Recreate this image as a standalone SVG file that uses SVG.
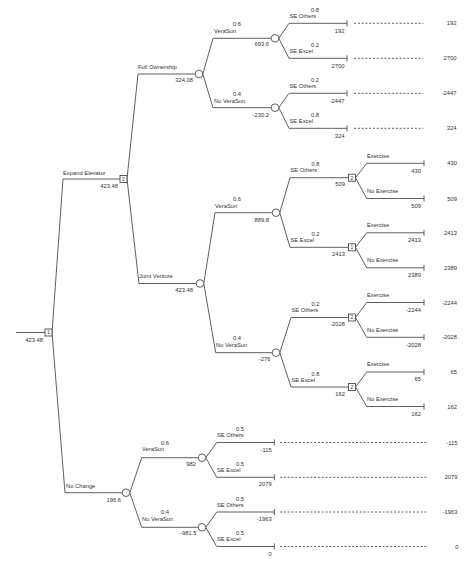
<svg xmlns="http://www.w3.org/2000/svg" width="474" height="563" viewBox="0 0 474 563">
<style>
.ln{stroke:#4d4d4d;stroke-width:0.9;fill:none}
.dl{stroke:#4d4d4d;stroke-width:0.9;fill:none;stroke-dasharray:2 1.8}
.t{font-family:"Liberation Sans",Arial,sans-serif;font-size:5.8px;fill:#333}
.e{text-anchor:end}
.m{text-anchor:middle}
.b{font-family:"Liberation Sans",Arial,sans-serif;font-size:5px;fill:#333;text-anchor:middle}
.dec{fill:#fff;stroke:#4d4d4d;stroke-width:0.9}
.ch{fill:#fff;stroke:#4d4d4d;stroke-width:0.9}
.tm{stroke:#4d4d4d;stroke-width:0.9}
</style>
<rect width="474" height="563" fill="#fff"/>
<g id="connectors">
<line class="ln" x1="16" y1="332.5" x2="45" y2="332.5"/>
<polyline class="ln" points="52,332.5 63,179 120,179"/>
<polyline class="ln" points="52,332.5 65,492.7 122.2,492.7"/>
<polyline class="ln" points="127,179 138,74 195.2,74"/>
<polyline class="ln" points="127,179 139,283.5 196.2,283.5"/>
<polyline class="ln" points="202.8,74 213,38.3 271.2,38.3"/>
<polyline class="ln" points="202.8,74 213,107.7 271.2,107.7"/>
<polyline class="ln" points="203.8,283.5 215,212.7 272.2,212.7"/>
<polyline class="ln" points="203.8,283.5 215.7,352.7 272.2,352.7"/>
<polyline class="ln" points="129.8,492.7 141.7,457.7 198.2,457.7"/>
<polyline class="ln" points="129.8,492.7 141.7,527.3 198.2,527.3"/>
<polyline class="ln" points="278.8,38.3 289,23.3 347,23.3"/>
<polyline class="ln" points="278.8,38.3 289,58.3 347,58.3"/>
<polyline class="ln" points="278.8,107.7 289,93.3 347,93.3"/>
<polyline class="ln" points="278.8,107.7 289,128.3 347,128.3"/>
<polyline class="ln" points="279.8,212.7 290,177.7 348.5,177.7"/>
<polyline class="ln" points="279.8,212.7 290,247.3 348.5,247.3"/>
<polyline class="ln" points="279.8,352.7 291,317.5 348.5,317.5"/>
<polyline class="ln" points="279.8,352.7 291,387 348.5,387"/>
<polyline class="ln" points="355.5,177.7 366.7,163.3 424,163.3"/>
<polyline class="ln" points="355.5,177.7 366.7,198.5 424,198.5"/>
<polyline class="ln" points="355.5,247.3 366.7,232.8 424,232.8"/>
<polyline class="ln" points="355.5,247.3 366.7,267.8 424,267.8"/>
<polyline class="ln" points="355.5,317.5 366.7,302.5 424,302.5"/>
<polyline class="ln" points="355.5,317.5 366.7,337.3 424,337.3"/>
<polyline class="ln" points="355.5,387 366.7,372 424,372"/>
<polyline class="ln" points="355.5,387 366.7,406.5 424,406.5"/>
<polyline class="ln" points="205.8,457.7 216.7,442.5 274.3,442.5"/>
<polyline class="ln" points="205.8,457.7 216.7,477.3 274.3,477.3"/>
<polyline class="ln" points="205.8,527.3 216.7,512 274.3,512"/>
<polyline class="ln" points="205.8,527.3 216.7,546.5 274.3,546.5"/>
<line class="dl" x1="354" y1="23.3" x2="423.3" y2="23.3"/>
<line class="dl" x1="354" y1="58.3" x2="423.3" y2="58.3"/>
<line class="dl" x1="354" y1="93.3" x2="423.3" y2="93.3"/>
<line class="dl" x1="354" y1="128.3" x2="423.3" y2="128.3"/>
<line class="dl" x1="280" y1="442.5" x2="426.7" y2="442.5"/>
<line class="dl" x1="280" y1="477.3" x2="426.7" y2="477.3"/>
<line class="dl" x1="280" y1="512" x2="426.7" y2="512"/>
<line class="dl" x1="280" y1="546.5" x2="426.7" y2="546.5"/>
<text class="t" x="63" y="174.5">Expand Elevator</text>
<text class="t" x="66" y="487.5">No Change</text>
<text class="t" x="138" y="68.5">Full Ownership</text>
<text class="t" x="139" y="278">Joint Venture</text>
<text class="t m" x="237" y="26.3">0.6</text>
<text class="t" x="214" y="33">VeraSun</text>
<text class="t m" x="237" y="96">0.4</text>
<text class="t" x="214" y="102.7">No VeraSun</text>
<text class="t m" x="237" y="201">0.6</text>
<text class="t" x="215" y="207.8">VeraSun</text>
<text class="t m" x="237" y="340">0.4</text>
<text class="t" x="216" y="347">No VeraSun</text>
<text class="t m" x="165" y="444.8">0.6</text>
<text class="t" x="142" y="451">VeraSun</text>
<text class="t m" x="165" y="514">0.4</text>
<text class="t" x="142" y="521">No VeraSun</text>
<text class="t m" x="315" y="12">0.8</text>
<text class="t" x="289.5" y="18.1">SE Others</text>
<text class="t m" x="315" y="47">0.2</text>
<text class="t" x="289.5" y="53.1">SE Excel</text>
<text class="t m" x="315" y="82">0.2</text>
<text class="t" x="289.5" y="88.1">SE Others</text>
<text class="t m" x="315" y="117">0.8</text>
<text class="t" x="289.5" y="123.1">SE Excel</text>
<text class="t m" x="315.5" y="166.3">0.8</text>
<text class="t" x="290.5" y="172.4">SE Others</text>
<text class="t m" x="315.5" y="236">0.2</text>
<text class="t" x="290.5" y="242">SE Excel</text>
<text class="t m" x="315.5" y="306.2">0.2</text>
<text class="t" x="291.5" y="312.2">SE Others</text>
<text class="t m" x="315.5" y="375.7">0.8</text>
<text class="t" x="291.5" y="381.7">SE Excel</text>
<text class="t" x="367" y="157.7">Exercise</text>
<text class="t" x="367" y="192.9">No Exercise</text>
<text class="t" x="367" y="227.2">Exercise</text>
<text class="t" x="367" y="262.2">No Exercise</text>
<text class="t" x="367" y="296.9">Exercise</text>
<text class="t" x="367" y="331.7">No Exercise</text>
<text class="t" x="367" y="366.4">Exercise</text>
<text class="t" x="367" y="400.9">No Exercise</text>
<text class="t m" x="240" y="431">0.5</text>
<text class="t" x="217" y="437.2">SE Others</text>
<text class="t m" x="240" y="465.8">0.5</text>
<text class="t" x="217" y="472">SE Excel</text>
<text class="t m" x="240" y="500.5">0.5</text>
<text class="t" x="217" y="506.7">SE Others</text>
<text class="t m" x="240" y="535">0.5</text>
<text class="t" x="217" y="541.2">SE Excel</text>
</g>
<g id="root"><rect class="dec" x="45" y="329" width="7" height="7"/><text class="b" x="48.5" y="334.3">1</text><text class="t e" x="43" y="342">423.48</text></g>
<g id="expand-elevator"><rect class="dec" x="120" y="175.5" width="7" height="7"/><text class="b" x="123.5" y="180.8">2</text><text class="t e" x="118" y="188">423.48</text></g>
<g id="full-ownership"><circle class="ch" cx="199" cy="74" r="3.8"/><text class="t e" x="193" y="82">324.08</text></g>
<g id="joint-venture"><circle class="ch" cx="200" cy="283.5" r="3.8"/><text class="t e" x="193" y="292">423.48</text></g>
<g id="no-change"><circle class="ch" cx="126" cy="492.7" r="3.8"/><text class="t e" x="121" y="501.5">196.6</text></g>
<g id="fo-verasun"><circle class="ch" cx="275" cy="38.3" r="3.8"/><text class="t e" x="269" y="46">693.6</text></g>
<g id="fo-no-verasun"><circle class="ch" cx="275" cy="107.7" r="3.8"/><text class="t e" x="269" y="117">-230.2</text></g>
<g id="jv-verasun"><circle class="ch" cx="276" cy="212.7" r="3.8"/><text class="t e" x="269" y="222">889.8</text></g>
<g id="jv-no-verasun"><circle class="ch" cx="276" cy="352.7" r="3.8"/><text class="t e" x="270.5" y="361">-276</text></g>
<g id="nc-verasun"><circle class="ch" cx="202" cy="457.7" r="3.8"/><text class="t e" x="196" y="465.5">982</text></g>
<g id="nc-no-verasun"><circle class="ch" cx="202" cy="527.3" r="3.8"/><text class="t e" x="196.5" y="534.8">-981.5</text></g>
<g id="jv-v-others"><rect class="dec" x="348.5" y="174.2" width="7" height="7"/><text class="b" x="352" y="179.5">2</text><text class="t e" x="345" y="186.4">509</text></g>
<g id="jv-v-excel"><rect class="dec" x="348.5" y="243.8" width="7" height="7"/><text class="b" x="352" y="249.1">1</text><text class="t e" x="345" y="256">2413</text></g>
<g id="jv-n-others"><rect class="dec" x="348.5" y="314" width="7" height="7"/><text class="b" x="352" y="319.3">2</text><text class="t e" x="345" y="326.2">-2028</text></g>
<g id="jv-n-excel"><rect class="dec" x="348.5" y="383.5" width="7" height="7"/><text class="b" x="352" y="388.8">2</text><text class="t e" x="345" y="395.7">162</text></g>
<g id="leaf1"><line class="tm" x1="347" y1="20.3" x2="347" y2="26.3"/><text class="t e" x="344.5" y="32.8">192</text><text class="t e" x="456.5" y="25.3">192</text></g>
<g id="leaf2"><line class="tm" x1="347" y1="55.3" x2="347" y2="61.3"/><text class="t e" x="344.5" y="67.8">2700</text><text class="t e" x="456.5" y="60.3">2700</text></g>
<g id="leaf3"><line class="tm" x1="347" y1="90.3" x2="347" y2="96.3"/><text class="t e" x="344.5" y="102.8">-2447</text><text class="t e" x="456.5" y="95.3">-2447</text></g>
<g id="leaf4"><line class="tm" x1="347" y1="125.3" x2="347" y2="131.3"/><text class="t e" x="344.5" y="137.8">324</text><text class="t e" x="456.5" y="130.3">324</text></g>
<g id="leaf5"><line class="tm" x1="424" y1="160.3" x2="424" y2="166.3"/><text class="t e" x="421" y="172.5">430</text><text class="t e" x="457" y="165.3">430</text></g>
<g id="leaf6"><line class="tm" x1="424" y1="195.5" x2="424" y2="201.5"/><text class="t e" x="421" y="207.7">509</text><text class="t e" x="457" y="200.5">509</text></g>
<g id="leaf7"><line class="tm" x1="424" y1="229.8" x2="424" y2="235.8"/><text class="t e" x="421" y="242">2413</text><text class="t e" x="457" y="234.8">2413</text></g>
<g id="leaf8"><line class="tm" x1="424" y1="264.8" x2="424" y2="270.8"/><text class="t e" x="421" y="277">2389</text><text class="t e" x="457" y="269.8">2389</text></g>
<g id="leaf9"><line class="tm" x1="424" y1="299.5" x2="424" y2="305.5"/><text class="t e" x="421" y="311.7">-2244</text><text class="t e" x="457" y="304.5">-2244</text></g>
<g id="leaf10"><line class="tm" x1="424" y1="334.3" x2="424" y2="340.3"/><text class="t e" x="421" y="346.5">-2028</text><text class="t e" x="457" y="339.3">-2028</text></g>
<g id="leaf11"><line class="tm" x1="424" y1="369" x2="424" y2="375"/><text class="t e" x="421" y="381.2">65</text><text class="t e" x="457" y="374">65</text></g>
<g id="leaf12"><line class="tm" x1="424" y1="403.5" x2="424" y2="409.5"/><text class="t e" x="421" y="415.7">162</text><text class="t e" x="457" y="408.5">162</text></g>
<g id="leaf13"><line class="tm" x1="274.3" y1="439.5" x2="274.3" y2="445.5"/><text class="t e" x="271.7" y="451.5">-115</text><text class="t e" x="457.5" y="444.5">-115</text></g>
<g id="leaf14"><line class="tm" x1="274.3" y1="474.3" x2="274.3" y2="480.3"/><text class="t e" x="271.7" y="486.3">2079</text><text class="t e" x="457.5" y="479.3">2079</text></g>
<g id="leaf15"><line class="tm" x1="274.3" y1="509" x2="274.3" y2="515"/><text class="t e" x="271.7" y="521">-1963</text><text class="t e" x="457.5" y="514">-1963</text></g>
<g id="leaf16"><line class="tm" x1="274.3" y1="543.5" x2="274.3" y2="549.5"/><text class="t e" x="271.7" y="555.5">0</text><text class="t e" x="458.5" y="548.5">0</text></g>
</svg>
